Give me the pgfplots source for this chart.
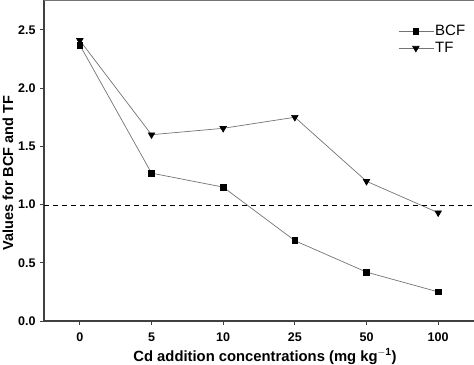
\documentclass[border=0pt]{standalone}
\usepackage{pgfplots}
\pgfplotsset{compat=1.18}
\usepackage{fontspec}
\setmainfont{Liberation Sans}
\definecolor{axgray}{gray}{0.25}
\definecolor{lngray}{gray}{0.45}
\begin{document}
\begin{tikzpicture}[x=1pt,y=1pt]
\begin{axis}[
  scale only axis,
  width=430pt, height=321pt,
  xmin=-0.5, xmax=5.5,
  ymin=0, ymax=2.757,
  axis x line*=bottom, axis y line*=left,
  axis line style={axgray, line width=1.3pt, -},
  xtick={0,1,2,3,4,5},
  xticklabels={0,5,10,25,50,100},
  ytick={0,0.5,1,1.5,2,2.5},
  yticklabel style={/pgf/number format/fixed,/pgf/number format/fixed zerofill,/pgf/number format/precision=1},
  /pgf/number format/assume math mode=true,
  tick align=outside,
  major tick length=4pt,
  tick style={axgray, line width=1pt},
  ticklabel style={font=\fontsize{12.5}{14}\selectfont\bfseries},
  xticklabel style={anchor=base, yshift=-16pt},
  yticklabel style={anchor=east, xshift=-1pt},
  xlabel={Cd addition concentrations (mg kg$^{\mathbf{-1}}$)},
  ylabel={Values for BCF and TF},
  xlabel style={font=\fontsize{14.8}{16}\selectfont\bfseries, at={(axis description cs:0.5,0)}, anchor=base, yshift=-40pt, xshift=6pt},
  ylabel style={font=\fontsize{14.5}{16}\selectfont\bfseries, at={(axis description cs:0,0.461)}, anchor=center, yshift=36pt},
  legend style={draw=none, fill=none, at={(rel axis cs:0.824,0.925)}, anchor=north west,
    font=\fontsize{15}{17}\selectfont, row sep=3pt, inner sep=0pt,
    nodes={inner sep=1pt}},
  legend image code/.code={\draw[mark repeat=2,mark phase=2,#1] plot coordinates {(0pt,0pt) (17pt,0pt) (35pt,0pt)};},
  legend cell align=left,
  clip=false,
]
\draw[lngray, line width=2.5pt] (rel axis cs:0,1) -- (rel axis cs:1,1);
\addplot[lngray, line width=0.7pt, mark=square*, mark options={black, solid, scale=1.45}] coordinates {
  (0,2.37) (1,1.27) (2,1.15) (3,0.69) (4,0.42) (5,0.25)};
\addlegendentry{BCF}
\addplot[lngray, line width=0.7pt, mark=triangle*, mark options={black, solid, rotate=180, scale=1.85}] coordinates {
  (0,2.41) (1,1.60) (2,1.655) (3,1.75) (4,1.20) (5,0.93)};
\addlegendentry{TF}
\addplot[black, dashed, line width=1pt, dash pattern=on 5pt off 4pt, forget plot] coordinates {(-0.5,0.99) (5.5,0.99)};
\end{axis}
\pgfresetboundingbox
\path (current axis.south west) ++(-44pt,-43pt) rectangle (current axis.north east);
\end{tikzpicture}
\end{document}
